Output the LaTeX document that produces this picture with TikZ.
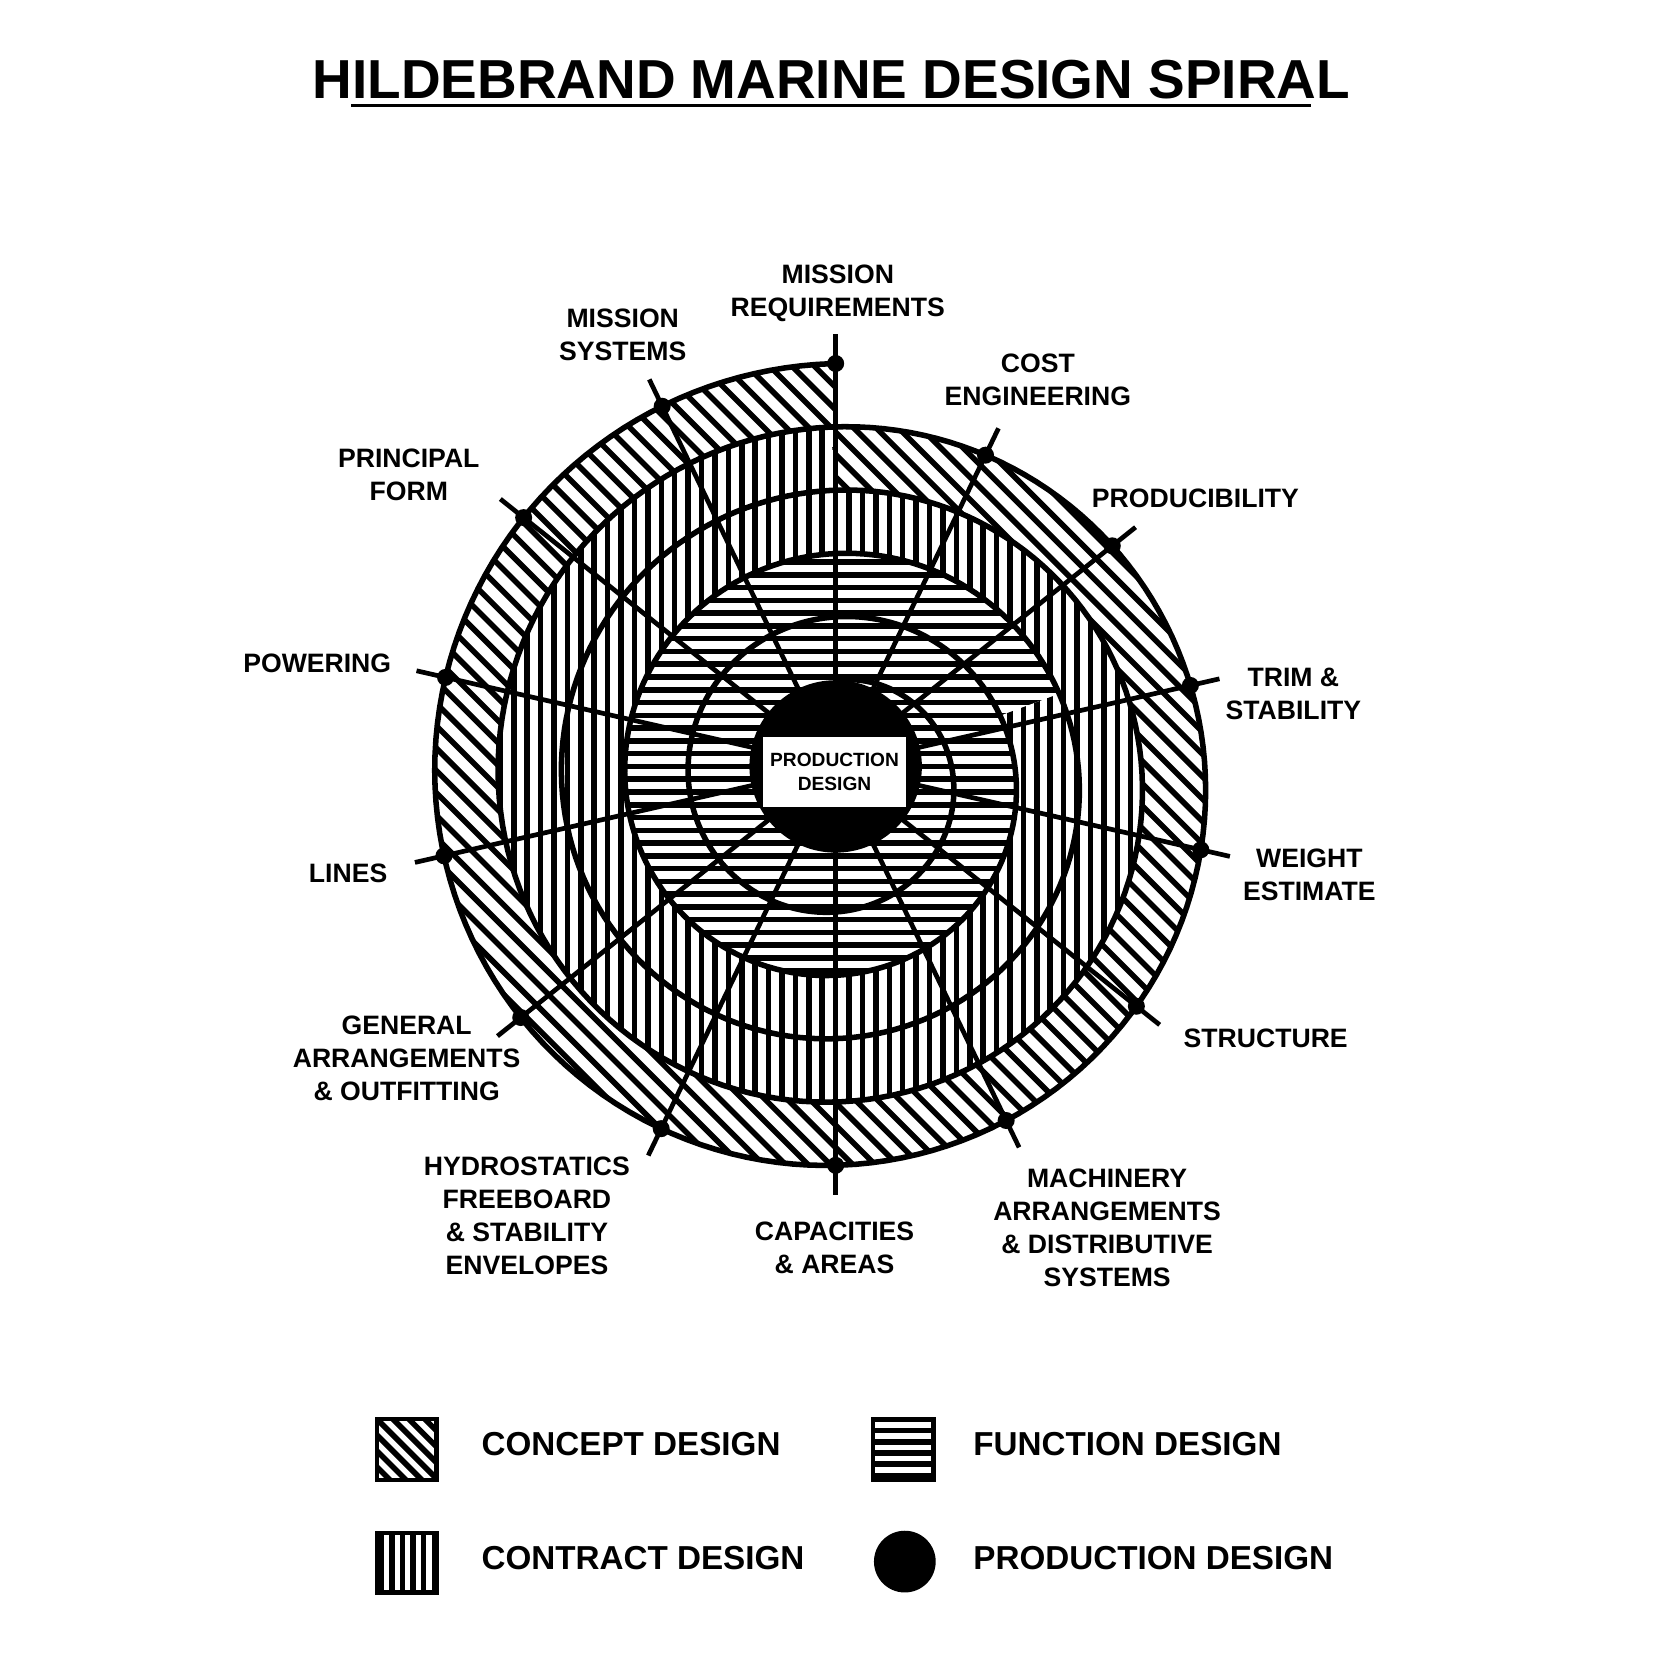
\documentclass[tikz,border=0pt]{standalone}
\usepackage{fontspec}
\setmainfont{Liberation Sans}
\usetikzlibrary{calc}
\begin{document}
\begin{tikzpicture}[x=0.5pt,y=0.5pt,
  declare function={rr(\t)=81+59.5*\t+26*sin(180*\t)^2; sx(\t)=785+rr(\t)*cos(90-360*\t); sy(\t)=830+rr(\t)*sin(90-360*\t);},
  lbl/.style={font=\bfseries\fontsize{12.5}{15.5}\selectfont,align=center},
  leg/.style={font=\bfseries\fontsize{15.6}{20}\selectfont,anchor=west,inner sep=0pt},
  heavy/.style={line width=2.6pt},
  hat/.style={line width=2.6pt}]
\useasboundingbox (0,-16) rectangle (1566,1550);
% function (horizontal) everywhere inside
\begin{scope}
\clip (785,830) circle (300);
\foreach \k in {-25,...,25} \draw[hat] (450,830+\k*12) -- ++(700,0);
\end{scope}
% contract (vertical)
\begin{scope}
\clip plot[domain=1.2:3,samples=200,variable=\t] ({sx(\t+1)},{sy(\t+1)}) -- plot[domain=3:1.2,samples=200,variable=\t] ({sx(\t)},{sy(\t)}) -- cycle;
\fill[white] (400,400) rectangle (1200,1300);
\foreach \k in {-35,...,35} \draw[hat] (785+\k*12.6,380) -- ++(0,900);
\end{scope}
% concept (diagonal)
\begin{scope}
\clip plot[domain=3:4,samples=200,variable=\t] ({sx(\t+1)},{sy(\t+1)}) -- plot[domain=4:3,samples=200,variable=\t] ({sx(\t)},{sy(\t)}) -- cycle;
\fill[white] (350,350) rectangle (1250,1300);
\foreach \k in {-60,...,60} \draw[hat] (385+\k*21,1250) -- ++(900,-900);
\end{scope}
% spokes
\coordinate (c) at (785,830);
\foreach \i in {0,...,13}{
  \pgfmathsetmacro{\tt}{ifthenelse(\i==0,5,4+\i/14)}
  \pgfmathsetmacro{\ang}{90-\i*360/14}
  \pgfmathsetmacro{\rd}{rr(\tt)}
  \coordinate (d\i) at ($(c)+(\ang:\rd)$);
  \coordinate (e\i) at ($(c)+(\ang:\rd+28)$);
  \draw[line width=2.2pt] (c) -- (e\i);
}
% spiral outline
\draw[heavy] plot[domain=0:5,samples=800,variable=\t] ({sx(\t)},{sy(\t)});
\draw[heavy] (785,830) -- (785,1208);
% production disk
\fill (c) circle (81);
\node[draw,fill=white,line width=1pt,minimum width=68pt,minimum height=34pt,inner sep=1pt,
  font=\bfseries\fontsize{9}{11.5}\selectfont,align=center] (pd) at (784,825) {PRODUCTION\\DESIGN};
\foreach \i in {0,...,13} \fill (d\i) circle (8);
% labels
\node[lbl] (l0) at (787,1274) {MISSION\\REQUIREMENTS};
\node[lbl] (l1) at (975,1193) {COST\\ENGINEERING};
\node[lbl] (l2) at (1123,1082) {PRODUCIBILITY};
\node[lbl] (l3) at (1215,898) {TRIM \&\\STABILITY};
\node[lbl] (l4) at (1230,728) {WEIGHT\\ESTIMATE};
\node[lbl] (l5) at (1189,575) {STRUCTURE};
\node[lbl] (l6) at (1040,397) {MACHINERY\\ARRANGEMENTS\\\& DISTRIBUTIVE\\SYSTEMS};
\node[lbl] (l7) at (784,378) {CAPACITIES\\\& AREAS};
\node[lbl] (l8) at (495,408) {HYDROSTATICS\\FREEBOARD\\\& STABILITY\\ENVELOPES};
\node[lbl] (l9) at (382,556) {GENERAL\\ARRANGEMENTS\\\& OUTFITTING};
\node[lbl] (l10) at (327,730) {LINES};
\node[lbl] (l11) at (298,927) {POWERING};
\node[lbl] (l12) at (384,1104) {PRINCIPAL\\FORM};
\node[lbl] (l13) at (585,1235) {MISSION\\SYSTEMS};
% title
\node[font=\bfseries\fontsize{25.8}{30}\selectfont] (title) at (781,1475) {HILDEBRAND MARINE DESIGN SPIRAL};
\draw[line width=1.6pt] (330,1451) -- (1232,1451);
% legend
\begin{scope}
\clip (354,160) rectangle (410,217);
\foreach \k in {-6,...,6} \draw[hat] (354+\k*15,217) -- ++(80,-80);
\end{scope}
\draw[line width=2pt] (354,160) rectangle (410,217) node[pos=0.5] (lb1) {};
\begin{scope}
\clip (820,160) rectangle (877,217);
\foreach \k in {0,...,5} \draw[hat] (820,164+\k*10.5) -- ++(60,0);
\end{scope}
\draw[line width=2pt] (820,160) rectangle (877,217) node[pos=0.5] (lb2) {};
\begin{scope}
\clip (354,54) rectangle (410,110);
\foreach \k in {0,...,5} \draw[hat] (358+\k*10,54) -- ++(0,60);
\end{scope}
\draw[line width=2pt] (354,54) rectangle (410,110) node[pos=0.5] (lb3) {};
\fill (850,83) circle (29);
\node[leg] (t1) at (452,193) {CONCEPT DESIGN};
\node[leg] (t2) at (914,193) {FUNCTION DESIGN};
\node[leg] (t3) at (452,86) {CONTRACT DESIGN};
\node[leg] (t4) at (914,86) {PRODUCTION DESIGN};
\end{tikzpicture}
\end{document}
